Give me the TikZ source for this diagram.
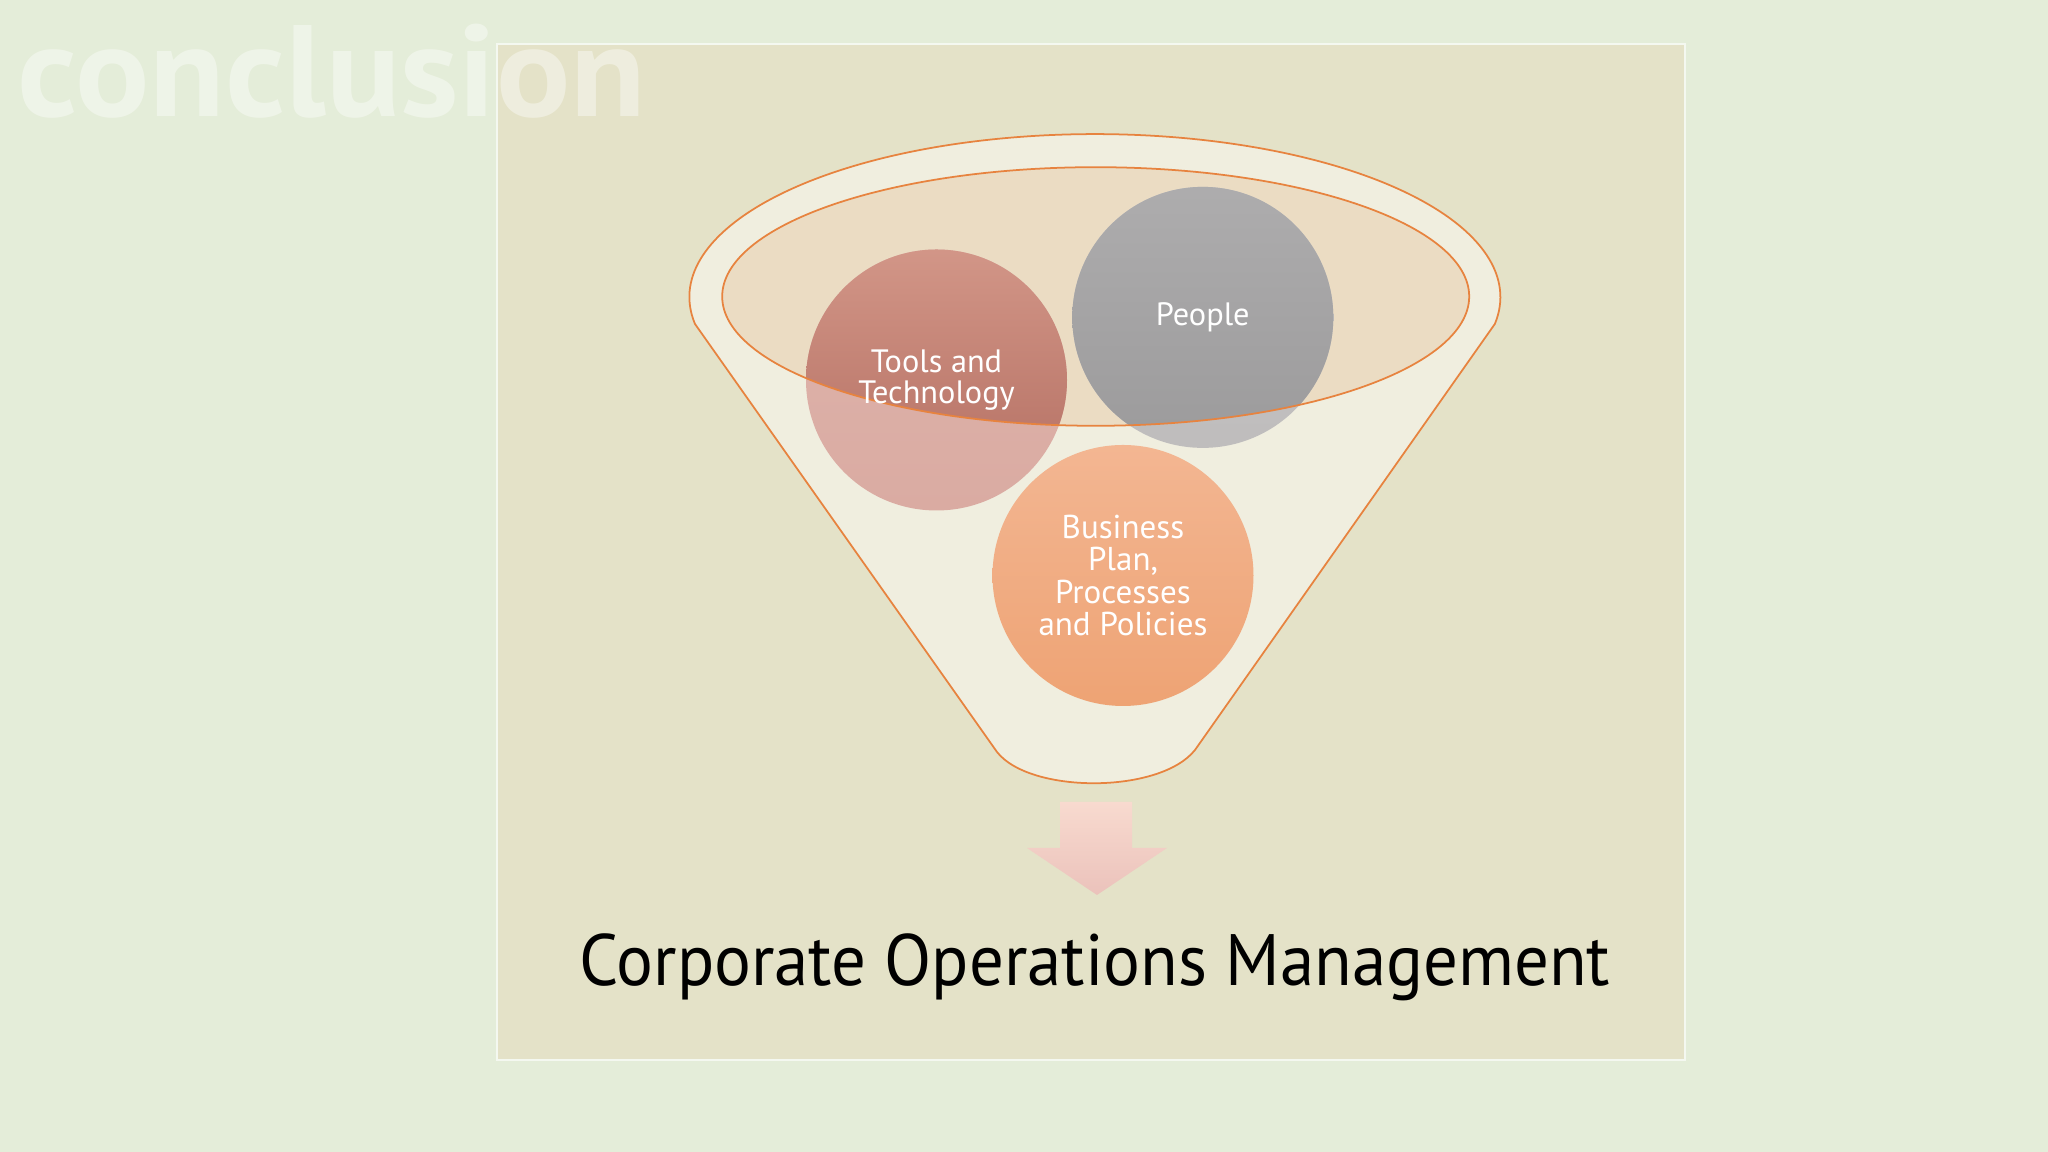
\documentclass[tikz,border=0pt]{standalone}
\usepackage{fontspec}
\setmainfont{PT Sans}
\usepackage{tikz}
\usetikzlibrary{positioning}
\definecolor{bgcol}{HTML}{E4EDD9}
\definecolor{slidecol}{HTML}{E4E2C8}
\definecolor{creamcol}{HTML}{F0EEDF}
\definecolor{rimcol}{HTML}{EBDCC3}
\definecolor{edgecol}{HTML}{E7833F}
\definecolor{toolsin}{HTML}{CD8A7A}
\definecolor{toolsout}{HTML}{DAABA2}
\definecolor{peoplein}{HTML}{A9A8A9}
\definecolor{peopleout}{HTML}{BFBDBD}
\definecolor{planTop}{HTML}{F3B692}
\definecolor{planBot}{HTML}{EEA374}
\definecolor{arrowTop}{HTML}{F8DACF}
\definecolor{arrowBot}{HTML}{EBC2BB}
\tikzset{ball/.style = {circle, inner sep = 0, minimum size = 2.61cm, align = center,
                        text = white, font = \fontsize{9.2}{10}\selectfont}}
\tikzset{rim/.style = {draw = edgecol, line width = 0.5pt}}

\begin{document}
\begin{tikzpicture}
      \useasboundingbox (0, 0) rectangle (20.48, 11.52);
      \fill [bgcol] (0, 0) rectangle (20.48, 11.52);
      \draw [fill = slidecol, draw = white!60!bgcol, line width = 0.8pt] (4.97, 0.92) rectangle (16.85, 11.08);

      \node [anchor = base west, inner sep = 0, text = white, opacity = 0.4, xscale = 1.065,
             font = \bfseries\fontsize{37}{40}\selectfont] (title) at (0.17, 10.35) {conclusion};

      % funnel body
      \draw [rim, fill = creamcol] (9.97, 4.0) -- (6.95, 8.28)
            arc [start angle = 189.5, end angle = -9.5, x radius = 4.055, y radius = 1.63]
            -- (11.95, 4.02) .. controls (11.6, 3.58) and (10.3, 3.58) .. cycle;
      \fill [rimcol] (10.957, 8.555) ellipse [x radius = 3.735, y radius = 1.293];

      \node [ball, top color = toolsout!90!white, bottom color = toolsout] (tools) at (9.365, 7.72) {};
      \node [ball, top color = peopleout!92!white, bottom color = peopleout] (people) at (12.028, 8.346) {};
      \node [ball, top color = planTop, bottom color = planBot, font = \fontsize{9.4}{10.2}\selectfont]
            (plan) at (11.23, 5.765) {Business\\[-1pt]Plan,\\[-1pt]Processes\\[-1pt]and Policies};

      \begin{scope}
        \clip (10.957, 8.555) ellipse [x radius = 3.735, y radius = 1.293];
        \shade [top color = toolsin!90!white, bottom color = toolsin!92!red!85!black] (tools.center) circle (1.305);
        \shade [top color = peoplein!95!white, bottom color = peoplein!92!black] (people.center) circle (1.305);
      \end{scope}
      \draw [rim] (10.957, 8.555) ellipse [x radius = 3.735, y radius = 1.293];

      \node [ball] at (tools) {Tools and\\[-1pt]Technology};
      \node [ball] at (people) {People};

      % arrow down
      \shade [top color = arrowTop, bottom color = arrowBot]
            (10.60, 3.50) -- (11.32, 3.50) -- (11.32, 3.04) -- (11.67, 3.04)
            -- (10.97, 2.57) -- (10.27, 3.04) -- (10.60, 3.04) -- cycle;

      \node [anchor = base, inner sep = 0, xscale = 0.947, font = \fontsize{20.7}{22}\selectfont]
            (result) at (10.95, 1.66) {Corporate Operations Management};
    \end{tikzpicture}
\end{document}
